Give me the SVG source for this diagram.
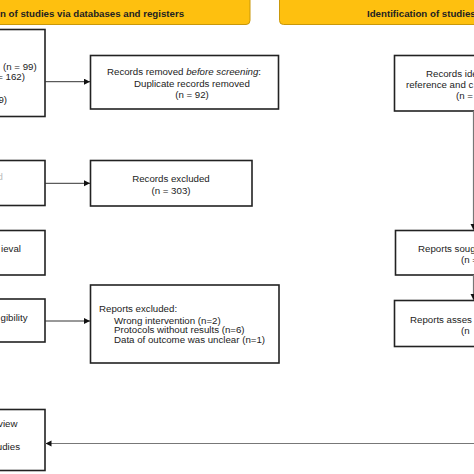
<svg xmlns="http://www.w3.org/2000/svg" width="474" height="474" viewBox="0 0 474 474">
<style>
.hdr{fill:#FEC00F;stroke:#C9980A;stroke-width:1}
.ht{font-family:"Liberation Sans",Arial,sans-serif;font-size:9.7px;font-weight:bold;fill:#222}
.box{fill:#fff;stroke:#222;stroke-width:1.6}
.t{font-family:"Liberation Sans",Arial,sans-serif;font-size:9.7px;fill:#222}
.c{text-anchor:middle}
.e{text-anchor:end}
.ln{fill:none;stroke:#333;stroke-width:1}
.lg{fill:none;stroke:#777;stroke-width:1.2}
</style>
<defs>
<marker id="ah" markerWidth="8" markerHeight="8" refX="6" refY="3" orient="auto" markerUnits="userSpaceOnUse">
<path d="M0,0 L6,3 L0,6 Z" fill="#111"/>
</marker>
</defs>
<rect width="474" height="474" fill="#fff"/>
<g id="header-left">
<rect class="hdr" x="-20" y="-4" width="270" height="28.5" rx="4"/>
<text class="ht" x="0" y="17">n of studies via databases and registers</text>
</g>
<g id="header-right">
<rect class="hdr" x="279.5" y="-4" width="220" height="28.5" rx="4"/>
<text class="ht" x="367" y="17">Identification of studies</text>
</g>
<g id="records-identified">
<rect class="box" x="-20" y="29.5" width="65" height="87"/>
<text class="t" x="3" y="69.5">(n = 99)</text>
<text class="t e" x="25" y="80">= 162)</text>
<text class="t e" x="7" y="102.5">9)</text>
</g>
<g id="records-removed">
<rect class="box" x="90.5" y="55.5" width="188" height="53.5"/>
<text class="t" x="107" y="75">Records removed <tspan font-style="italic">before screening</tspan>:</text>
<text class="t" x="134" y="86.5">Duplicate records removed</text>
<text class="t c" x="192" y="98">(n = 92)</text>
</g>
<g id="records-screened">
<rect class="box" x="-20" y="160.5" width="65" height="45"/>
<text class="t e" x="3" y="180" fill="#aaa" style="fill:#bbb">d</text>
</g>
<g id="records-excluded">
<rect class="box" x="90.5" y="160.5" width="161.5" height="45.5"/>
<text class="t c" x="171" y="182">Records excluded</text>
<text class="t c" x="171" y="194">(n = 303)</text>
</g>
<g id="reports-sought">
<rect class="box" x="-20" y="230.5" width="65" height="44.5"/>
<text class="t e" x="21" y="251.5">ieval</text>
</g>
<g id="reports-assessed">
<rect class="box" x="-20" y="299" width="65" height="43"/>
<text class="t e" x="27.5" y="320.5">gibility</text>
</g>
<g id="reports-excluded">
<rect class="box" x="90.5" y="285" width="188.5" height="78"/>
<text class="t" x="99" y="312">Reports excluded:</text>
<text class="t" x="114" y="323.5">Wrong intervention (n=2)</text>
<text class="t" x="114" y="333">Protocols without results (n=6)</text>
<text class="t" x="114" y="342.5">Data of outcome was unclear (n=1)</text>
</g>
<g id="studies-included">
<rect class="box" x="-20" y="409.5" width="65" height="61"/>
<text class="t e" x="17.5" y="426.5">view</text>
<text class="t e" x="20" y="449.5">udies</text>
</g>
<g id="other-records">
<rect class="box" x="394.5" y="55.5" width="100" height="55.5"/>
<text class="t" x="426" y="76.5">Records ide</text>
<text class="t" x="406" y="87.5">reference and c</text>
<text class="t" x="456" y="99">(n =</text>
</g>
<g id="other-sought">
<rect class="box" x="395.5" y="230.5" width="100" height="44.5"/>
<text class="t" x="418" y="251.5">Reports soug</text>
<text class="t" x="461" y="262.5">(n =</text>
</g>
<g id="other-assessed">
<rect class="box" x="394.5" y="300.5" width="100" height="46"/>
<text class="t" x="410" y="322.5">Reports asses</text>
<text class="t" x="461" y="333.5">(n</text>
</g>
<g id="connectors">
<line class="ln" x1="45" y1="81.7" x2="90" y2="81.7" marker-end="url(#ah)"/>
<line class="ln" x1="45" y1="183.3" x2="90" y2="183.3" marker-end="url(#ah)"/>
<line class="ln" x1="45" y1="321" x2="90" y2="321" marker-end="url(#ah)"/>
<line class="lg" x1="473.5" y1="111" x2="473.5" y2="230" marker-end="url(#ah)"/>
<line class="lg" x1="473.5" y1="275" x2="473.5" y2="300" marker-end="url(#ah)"/>
<line class="lg" x1="480" y1="443.5" x2="45.5" y2="443.5" marker-end="url(#ah)"/>
</g>
</svg>
